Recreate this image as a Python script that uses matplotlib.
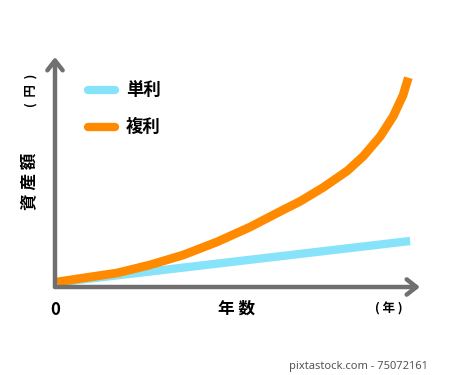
import matplotlib
matplotlib.use("Agg")
import matplotlib.pyplot as plt

plt.rcParams["font.family"] = ["Noto Sans CJK JP", "DejaVu Sans"]

# 年数 と 資産額 (相対値、図から読み取り)
simple_years = [0, 1, 2, 3, 4, 5, 6, 7, 8, 9, 10]
simple_interest = [2.0, 3.8, 5.6, 7.4, 9.2, 11.0, 12.8, 14.6, 16.4, 18.2, 20.0]

compound_years = [0, 0.74, 1.7, 2.63, 3.57, 4.53, 5.47, 6.4, 6.88, 7.54,
                  8.22, 8.67, 9.15, 9.52, 9.8, 9.95]
compound_interest = [2.2, 3.9, 6.1, 9.6, 13.9, 19.6, 26.1, 33.5, 37.2, 43.3,
                     50.5, 56.8, 65.4, 74.2, 83.4, 91.0]

series_labels = ["単利", "複利"]
series_colors = ["#86e3fa", "#ff8a00"]
axis_color = "#707070"

fig = plt.figure(figsize=(4.5, 3.75), dpi=100)
ax = fig.add_axes([55 / 450, 88 / 375, 365 / 450, 230 / 375])
ax.set_xlim(-0.06, 10.28)
ax.set_ylim(0, 100)
ax.axis("off")

ax.plot(simple_years, simple_interest, color=series_colors[0], lw=6, solid_capstyle="butt", zorder=2)
ax.plot(compound_years, compound_interest, color=series_colors[1], lw=6.3,
        solid_capstyle="butt", solid_joinstyle="round", zorder=3)

# 軸（矢印）
arrow = dict(arrowstyle="->,head_length=0.7,head_width=0.55", color=axis_color, lw=3.2,
             shrinkA=0, shrinkB=0)
ax.annotate("", xy=(0, 1.0), xytext=(0, 0), xycoords="axes fraction", arrowprops=arrow)
ax.annotate("", xy=(1.0, 0), xytext=(0, 0), xycoords="axes fraction", arrowprops=arrow)

# 凡例
for i, (lab, col) in enumerate(zip(series_labels, series_colors)):
    y = 90 + i * 37
    fig.add_artist(plt.Line2D([88 / 450, 115 / 450], [1 - y / 375] * 2, color=col, lw=6,
                              solid_capstyle="round"))
    fig.text(126 / 450, 1 - y / 375, lab, fontsize=12.5, fontweight="bold", va="center", ha="left")

# ラベル
fig.text(55 / 450, 1 - 310 / 375, "0", fontsize=12, fontweight="bold", ha="center", va="center")
fig.text(236 / 450, 1 - 309 / 375, "年 数", fontsize=12, fontweight="bold", ha="center", va="center")
fig.text(389 / 450, 1 - 309 / 375, "( 年 )", fontsize=9, fontweight="bold", ha="center", va="center")
fig.text(30 / 450, 1 - 181 / 375, "資 産 額", fontsize=12, fontweight="bold", ha="center",
         va="center", rotation=90)
fig.text(31 / 450, 1 - 90 / 375, "(  円  )", fontsize=9, fontweight="bold", ha="center",
         va="center", rotation=90)

fig.text(358 / 450, 1 - 367 / 375, "pixtastock.com - 75072161", fontsize=8, color="#555555",
         ha="center", va="center", family=["Noto Sans", "DejaVu Sans"])

fig.savefig("out.png", dpi=100)
